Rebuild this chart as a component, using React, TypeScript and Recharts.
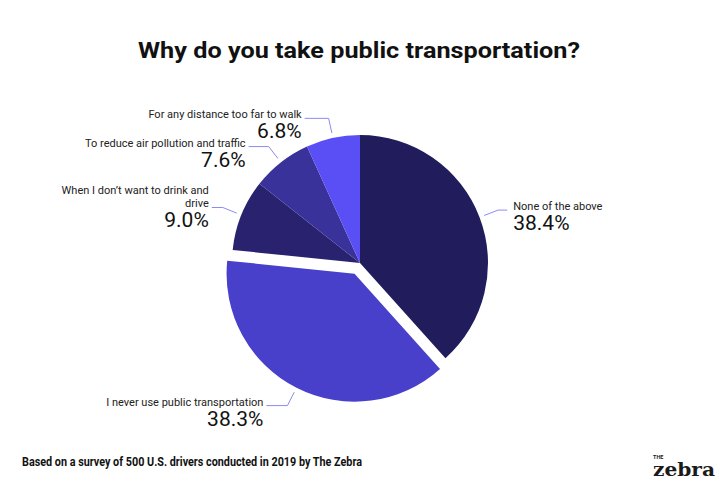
import { PieChart, Pie, Cell } from "recharts";

const categories = [
  "None of the above",
  "I never use public transportation",
  "When I don’t want to drink and\ndrive",
  "To reduce air pollution and traffic",
  "For any distance too far to walk",
];
const shares = [38.4, 38.3, 9.0, 7.6, 6.8];
const title = "Why do you take public transportation?";
const source = "Based on a survey of 500 U.S. drivers conducted in 2019 by The Zebra";

const COLORS = ["#211c5c", "#4840cb", "#29236f", "#3a329b", "#5a4ff5"];
const LINE_COLOR = "#8e88f3";
const EXPLODED = 1;
const EXPLODE_DIST = 12;
const ELBOW = [9, 21, 11, 20, 24];
const CX = 360;
const CY = 263;
const R = 128;
const RAD = Math.PI / 180;

const data = categories.map((name, i) => ({ name, value: shares[i] }));

// shift the exploded slice along its own mid angle
const total = shares.reduce((a, b) => a + b, 0);
const before = shares.slice(0, EXPLODED).reduce((a, b) => a + b, 0);
const explodedMid = 90 - (360 * (before + shares[EXPLODED] / 2)) / total;
const offX = EXPLODE_DIST * Math.cos(explodedMid * RAD);
const offY = -EXPLODE_DIST * Math.sin(explodedMid * RAD);

const makeLabel = (show: (i: number) => boolean) => (props: any) => {
  const { cx, cy, midAngle, outerRadius, index } = props;
  if (!show(index)) return null;
  const cos = Math.cos(-midAngle * RAD);
  const sin = Math.sin(-midAngle * RAD);
  const x1 = cx + (outerRadius + 5) * cos;
  const y1 = cy + (outerRadius + 5) * sin;
  const x2 = cx + (outerRadius + 20) * cos;
  const y2 = cy + (outerRadius + 20) * sin;
  const right = cos >= 0;
  const x3 = x2 + (right ? 1 : -1) * ELBOW[index];
  const tx = x3 + (right ? 6 : -3);
  const anchor = right ? "start" : "end";
  const lines = categories[index].split("\n");
  return (
    <g>
      <polyline
        points={`${x1},${y1} ${x2},${y2} ${x3},${y2}`}
        fill="none"
        stroke={LINE_COLOR}
        strokeWidth={1}
      />
      {lines.map((l, j) => (
        <text
          key={j}
          x={tx}
          y={y2 - (lines.length - 1 - j) * 13}
          textAnchor={anchor}
          fontSize={11}
          fontFamily="Roboto"
          fill="#222"
        >
          {l}
        </text>
      ))}
      <text
        x={tx}
        y={y2 + 20}
        textAnchor={anchor}
        fontSize={21}
        fontFamily="Roboto"
        fill="#111"
      >
        {shares[index].toFixed(1)}%
      </text>
    </g>
  );
};

export default function App() {
  return (
    <div style={{ position: "absolute", left: 0, top: 0, width: 720, height: 486, background: "#fff" }}>
      <PieChart width={720} height={486} margin={{ top: 0, right: 0, bottom: 0, left: 0 }}>
        <Pie
          data={data}
          dataKey="value"
          nameKey="name"
          cx={CX}
          cy={CY}
          outerRadius={R}
          startAngle={90}
          endAngle={-270}
          label={makeLabel((i) => i !== EXPLODED)}
          labelLine={false}
          isAnimationActive={false}
        >
          {data.map((_, i) => (
            <Cell key={i} fill={i === EXPLODED ? "none" : COLORS[i]} stroke="none" />
          ))}
        </Pie>
        <Pie
          data={data}
          dataKey="value"
          nameKey="name"
          cx={CX + offX}
          cy={CY + offY}
          outerRadius={R}
          startAngle={90}
          endAngle={-270}
          label={makeLabel((i) => i === EXPLODED)}
          labelLine={false}
          isAnimationActive={false}
        >
          {data.map((_, i) => (
            <Cell key={i} fill={i === EXPLODED ? COLORS[i] : "none"} stroke="none" />
          ))}
        </Pie>
      </PieChart>
      <svg
        width={720}
        height={486}
        style={{ position: "absolute", left: 0, top: 0, pointerEvents: "none" }}
      >
        <text
          x={138}
          y={58}
          fontSize={22}
          fontWeight={700}
          fontFamily="Roboto"
          fill="#111"
          textLength={442}
          lengthAdjust="spacingAndGlyphs"
        >
          {title}
        </text>
        <text
          x={22}
          y={466}
          fontSize={12.5}
          fontWeight={700}
          fontFamily="Roboto"
          fill="#111"
          textLength={340}
          lengthAdjust="spacingAndGlyphs"
        >
          {source}
        </text>
        <text x={653} y={459} fontSize={5.5} fontWeight={700} fontFamily="Roboto" fill="#1a1a1a">
          THE
        </text>
        <text
          x={653}
          y={476}
          fontSize={18}
          fontWeight={700}
          fontFamily="DejaVu Serif"
          fill="#1a1a1a"
          textLength={62}
          lengthAdjust="spacingAndGlyphs"
        >
          zebra
        </text>
      </svg>
    </div>
  );
}
